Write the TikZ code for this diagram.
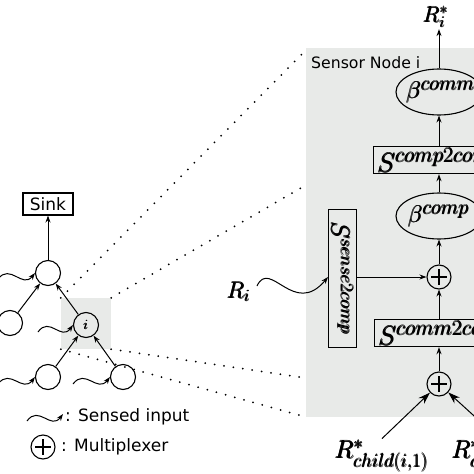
\RequirePackage{fix-cm}
\documentclass[tikz,border=0pt]{standalone}
\usepackage{amsmath}
\usepackage{fontspec}
\setsansfont{DejaVu Sans}
\usetikzlibrary{arrows.meta,calc,shapes.geometric}
\DeclareMathSizes{27}{27}{21.5}{16}
\DeclareMathSizes{26}{26}{18.5}{14}
\DeclareMathSizes{25}{25}{19}{14}
\DeclareMathSizes{24}{24}{20.5}{15}
\DeclareMathSizes{23}{23}{17}{13}
\DeclareMathSizes{22}{22}{16}{12}
\DeclareMathSizes{14}{14}{10}{7}
\definecolor{panelgray}{RGB}{232,234,232}
\newcommand{\inwave}[2]{\draw[wave] (#1) .. controls ($(#1)!0.33!(#2)+(0,-14)$) and ($(#1)!0.66!(#2)+(0,14)$) .. (#2);}
\begin{document}
\begin{tikzpicture}[x=1pt,y=-1pt,
  arr/.style={-{Stealth[length=7pt,width=5pt]}, line width=1pt},
  bigarr/.style={-{Stealth[length=12pt,width=8pt]}, line width=1pt},
  wave/.style={-{Stealth[length=7pt,width=5pt]}, line width=1pt},
  nd/.style={circle, draw, line width=1.1pt, minimum size=25pt, inner sep=0pt},
  mux/.style={circle, draw, line width=1.1pt, minimum size=24pt, inner sep=0pt,
    path picture={\draw[line width=1.5pt]
      ($(path picture bounding box.center)+(-8,0)$) -- ($(path picture bounding box.center)+(8,0)$)
      ($(path picture bounding box.center)+(0,-8)$) -- ($(path picture bounding box.center)+(0,8)$);}},
  sbox/.style={draw, line width=1pt, fill=panelgray, inner xsep=5pt, inner ysep=1.5pt, font=\fontsize{27}{30}\selectfont},
  ell/.style={ellipse, draw, line width=1.1pt, minimum width=86pt, minimum height=46pt, inner sep=-14pt, font=\fontsize{24}{26}\selectfont},
  dots/.style={line width=2pt, dash pattern=on 0pt off 9.5pt, line cap=round},
  lbl/.style={inner sep=1pt, font=\fontsize{25}{30}\selectfont},
  legend/.style={inner sep=0pt, anchor=west, font=\sffamily\fontsize{17}{20}\selectfont}]
\useasboundingbox (0,0) rectangle (474,474);
\clip (0,0) rectangle (474,474);
% left network
\node[fill=panelgray, minimum width=50pt, minimum height=51pt, inner sep=0pt] (sq) at (86,323.5) {};
\node[draw, line width=1.1pt, minimum width=50pt, minimum height=22pt, inner sep=0pt, font=\sffamily\fontsize{17}{20}\selectfont] (sink) at (48,204) {Sink};
\node[nd] (n0) at (48,273) {};
\node[nd] (nl) at (10,323) {};
\node[nd, font=\fontsize{14}{16}\selectfont] (ni) at (86,325) {$\pmb{i}$};
\node[nd] (nb1) at (48,377) {};
\node[nd] (nb2) at (123,377) {};
\draw[arr] (n0) -- (sink);
\draw[arr] (nl) -- (n0);
\draw[arr] (ni) -- (n0);
\draw[arr] (nb1) -- (ni);
\draw[arr] (nb2) -- (ni);
\coordinate (w0) at (-2,279);
\coordinate (wl) at (-45,330);
\coordinate (wi) at (38,332);
\coordinate (wb1) at (-2,384);
\coordinate (wb2) at (73,384);
\inwave{w0}{n0.west}
\inwave{wl}{nl.west}
\inwave{wi}{ni.west}
\inwave{wb1}{nb1.west}
\inwave{wb2}{nb2.west}
% zoom lines
\coordinate (p1) at (306,50);
\coordinate (p2) at (306,185);
\coordinate (p3) at (306,378);
\coordinate (p4) at (306,417);
\draw[dots] (sq.north west) -- (p1);
\draw[dots] (sq.north east) -- (p2);
\draw[dots] (sq.south east) -- (p3);
\draw[dots] (sq.south west) -- (p4);
% panel
\node[fill=panelgray, anchor=north west, minimum width=180pt, minimum height=369pt, inner sep=0pt] (panel) at (306,48) {};
\node[anchor=west, inner sep=0pt, font=\sffamily\fontsize{15.7}{18}\selectfont] (title) at (311,63) {Sensor Node i};
\node[ell] (bcomm) at (439,92) {\hspace*{4pt}$\pmb{\beta^{comm}}$};
\node[lbl, font=\fontsize{22}{26}\selectfont] (rstar) at (436,17) {$\pmb{R_i^*}$};
\node[sbox, anchor=west, minimum height=27pt] (c2c) at (372.5,160) {$\pmb{S^{comp2comm}}$};
\node[ell] (bcomp) at (439,216) {$\pmb{\beta^{comp}}$};
\node[mux] (m1) at (439,277) {};
\node[sbox, font=\fontsize{26}{30}\selectfont, rotate=-90, minimum width=138pt, minimum height=28pt] (sense) at (342.5,278.5) {$\pmb{S^{sense2comp}}$};
\node[sbox, anchor=west, minimum height=27pt] (c2c2) at (373.5,333) {$\pmb{S^{comm2comp}}$};
\node[mux] (m2) at (439,384) {};
\node[lbl, font=\fontsize{23}{26}\selectfont] (ri) at (239,292) {$\pmb{R_i}$};
\node[lbl] (rc1) at (382,456) {$\pmb{R^*_{child(i,1)}}$};
\node[lbl, anchor=west] (rc2) at (451,456) {$\pmb{R^*_{child(i,2)}}$};
\draw[arr] (bcomm.north) -- (bcomm.north |- rstar.south);
\draw[arr] (bcomm.south |- c2c.north) -- (bcomm.south);
\draw[arr] (bcomp.north) -- (bcomp.north |- c2c.south);
\draw[arr] (m1) -- (bcomp);
\draw[arr] (m1.south |- c2c2.north) -- (m1.south);
\draw[arr] (m2.north) -- (m2.north |- c2c2.south);
\draw[arr] (m1 -| sense.north) -- (m1);
\draw[bigarr] (rc1.north) -- (m2);
\draw[bigarr] (rc2.north) -- (m2);
\coordinate (riw) at (257,286);
\draw[wave] (riw) .. controls (270,258) and (294,318) .. (m1 -| sense.south);
% legend
\coordinate (lw) at (27,421);
\coordinate (lwe) at (63,414);
\inwave{lw}{lwe}
\node[legend] (lt1) at (65,417) {: Sensed input};
\node[mux] (lm) at (43,447) {};
\node[legend] (lt2) at (61,447) {: Multiplexer};
\end{tikzpicture}
\end{document}
